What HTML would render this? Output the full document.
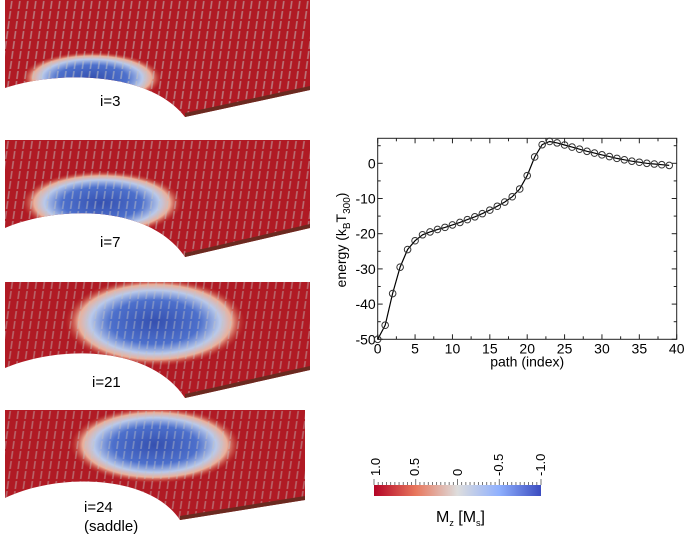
<!DOCTYPE html>
<html><head><meta charset="utf-8"><style>
html,body{margin:0;padding:0;background:#fff;}
svg{display:block;font-family:"Liberation Sans",sans-serif;}
</style></head><body>
<svg width="685" height="546" viewBox="0 0 685 546">
<defs>
<pattern id="arr" width="8" height="10" patternUnits="userSpaceOnUse" patternTransform="skewX(-8)">
<line x1="4" y1="1" x2="4" y2="9" stroke="#c4c4c4" stroke-width="1.6"/>
</pattern>
<radialGradient id="sk" cx="0.5" cy="0.5" r="0.5">
<stop offset="0" stop-color="#3550b0"/><stop offset="0.5" stop-color="#4d70cc"/><stop offset="0.72" stop-color="#b9c9ea"/><stop offset="0.85" stop-color="#eab09a"/><stop offset="1" stop-color="#c8402e" stop-opacity="0"/>
</radialGradient>
<linearGradient id="cb" x1="0" x2="1">
<stop offset="0" stop-color="#b40426"/><stop offset="0.25" stop-color="#e8775d"/><stop offset="0.5" stop-color="#dddddd"/><stop offset="0.75" stop-color="#8fb0fe"/><stop offset="1" stop-color="#3b4cc0"/>
</linearGradient>
<clipPath id="c1"><path d="M5,0 L310,0 L310,90 L185,117 C150,72 60,70 5,88 Z"/></clipPath>
<clipPath id="c2"><path d="M5,140 L310,140 L310,228 L185,257 C150,205 60,205 5,228 Z"/></clipPath>
<clipPath id="c3"><path d="M5,282 L310,282 L310,370 L185,398 C150,345 60,345 5,368 Z"/></clipPath>
<clipPath id="c4"><path d="M5,410 L305,410 L305,500 L180,520 C150,475 60,472 5,498 Z"/></clipPath>
</defs>

<g>
<g clip-path="url(#c1)">
<rect x="0" y="0" width="315" height="120" fill="#b01a24"/>
<ellipse cx="92" cy="78" rx="70" ry="26" fill="url(#sk)"/>
<rect x="0" y="0" width="315" height="120" fill="url(#arr)" opacity="0.55"/>
</g>
<path d="M310,90 L185,117 L185,113 L310,86 Z" fill="#6a2a20"/>
<text x="100" y="106" font-size="15">i=3</text>
</g>
<g>
<g clip-path="url(#c2)">
<rect x="0" y="140" width="315" height="120" fill="#b01a24"/>
<ellipse cx="102" cy="203" rx="80" ry="32" fill="url(#sk)"/>
<rect x="0" y="140" width="315" height="120" fill="url(#arr)" opacity="0.5"/>
</g>
<path d="M310,228 L185,257 L185,253 L310,224 Z" fill="#6a2a20"/>
<text x="100" y="247" font-size="15">i=7</text>
</g>
<g>
<g clip-path="url(#c3)">
<rect x="0" y="280" width="315" height="120" fill="#b01a24"/>
<ellipse cx="155" cy="322" rx="90" ry="44" fill="url(#sk)"/>
<rect x="0" y="280" width="315" height="120" fill="url(#arr)" opacity="0.45"/>
</g>
<path d="M310,370 L185,398 L185,394 L310,366 Z" fill="#6a2a20"/>
<text x="92" y="387" font-size="15">i=21</text>
</g>
<g>
<g clip-path="url(#c4)">
<rect x="0" y="408" width="315" height="115" fill="#b01a24"/>
<ellipse cx="155" cy="445" rx="85" ry="38" fill="url(#sk)"/>
<rect x="0" y="408" width="315" height="115" fill="url(#arr)" opacity="0.45"/>
</g>
<path d="M305,500 L180,520 L180,516 L305,496 Z" fill="#6a2a20"/>
<text x="84" y="512" font-size="15">i=24</text>
<text x="84" y="531" font-size="15">(saddle)</text>
</g>

<g id="chart"></g>

<g>
<rect x="374" y="485" width="167" height="11" fill="url(#cb)"/>
<g id="cbt"></g>
<text transform="translate(380,476) rotate(-90)" font-size="13">1.0</text>
<text transform="translate(419,476) rotate(-90)" font-size="13">0.5</text>
<text transform="translate(462,476) rotate(-90)" font-size="13">0</text>
<text transform="translate(503,476) rotate(-90)" font-size="13">-0.5</text>
<text transform="translate(545,476) rotate(-90)" font-size="13">-1.0</text>
<text x="436" y="522" font-size="16">M<tspan font-size="9" dy="4">z</tspan><tspan dy="-4"> [M</tspan><tspan font-size="9" dy="4">s</tspan><tspan dy="-4">]</tspan></text>
</g>
</svg>
<script>
const pathIndex = [];
for (let i = 0; i < 40; i++) pathIndex.push(i);
const energyValues = [-50,-46,-37,-29.5,-24.5,-22,-20.3,-19.5,-18.8,-18.2,-17.5,-16.8,-16.0,-15.2,-14.3,-13.3,-12.2,-11.0,-9.5,-7.3,-3.5,1.8,5.3,6.2,5.8,5.2,4.6,4.0,3.4,2.9,2.4,1.9,1.4,1.0,0.6,0.3,0,-0.2,-0.4,-0.6];
const xTicks = [0,5,10,15,20,25,30,35,40];
const yTicks = [-50,-40,-30,-20,-10,0];

const NS = "http://www.w3.org/2000/svg";
const X0 = 377.7, X1 = 676.7, Y0 = 163.3, YK = 3.52, TOP = 138.3, BOT = 339.3;
function xs(v){ return X0 + (v/40)*(X1-X0); }
function ys(v){ return Y0 - v*YK; }
function mk(tag, attrs, parent){ const e=document.createElementNS(NS,tag); for(const k in attrs) e.setAttribute(k,attrs[k]); parent.appendChild(e); return e; }
const g = document.getElementById('chart');

const frame = mk('rect',{x:X0,y:TOP,width:X1-X0,height:BOT-TOP,fill:'none',stroke:'#222','stroke-width':1},g);



xTicks.forEach(t=>{
  const x = xs(t);
  mk('line',{x1:x,y1:BOT,x2:x,y2:BOT-5,stroke:'#222'},g);
  mk('line',{x1:x,y1:TOP,x2:x,y2:TOP+5,stroke:'#222'},g);
  if (t<40){ mk('line',{x1:xs(t+2.5),y1:BOT,x2:xs(t+2.5),y2:BOT-3,stroke:'#222'},g); mk('line',{x1:xs(t+2.5),y1:TOP,x2:xs(t+2.5),y2:TOP+3,stroke:'#222'},g); }
  const tx = mk('text',{x:x,y:BOT+14,'font-size':14,'text-anchor':'middle'},g);
  tx.textContent = t;
  
  
});
yTicks.forEach(t=>{
  const y = ys(t);
  mk('line',{x1:X0,y1:y,x2:X0+5,y2:y,stroke:'#222'},g);
  mk('line',{x1:X1,y1:y,x2:X1-5,y2:y,stroke:'#222'},g);
  mk('line',{x1:X0,y1:ys(t+5),x2:X0+3,y2:ys(t+5),stroke:'#222'},g);
  mk('line',{x1:X1,y1:ys(t+5),x2:X1-3,y2:ys(t+5),stroke:'#222'},g);
  const tx = mk('text',{x:X0-2,y:y+5,'font-size':14,'text-anchor':'end'},g);
  tx.textContent = t;
  
  
});

let d = '';
energyValues.forEach((v,i)=>{ d += (i?'L':'M') + xs(pathIndex[i]).toFixed(1) + ',' + ys(v).toFixed(1); });
const line = mk('path',{d:d,fill:'none',stroke:'#000','stroke-width':1.2},g);


energyValues.forEach((v,i)=>{
  const c = mk('circle',{cx:xs(pathIndex[i]),cy:ys(v),r:3.3,fill:'none',stroke:'#333','stroke-width':1},g);
  
  
});

const xl = mk('text',{x:(X0+X1)/2,y:BOT+27,'font-size':14,'text-anchor':'middle'},g);
xl.textContent = 'path (index)';


const yl = mk('text',{transform:'translate(346,240) rotate(-90)','font-size':14,'text-anchor':'middle'},g);
yl.innerHTML = 'energy (k<tspan font-size="10" dy="4">B</tspan><tspan dy="-4">T</tspan><tspan font-size="10" dy="4">300</tspan><tspan dy="-4">)</tspan>';



const cbt = document.getElementById('cbt');
for (let k=0;k<=40;k++){
  const x = 374 + k*167/40;
  mk('line',{x1:x,y1:485,x2:x,y2:(k%10===0)?479:482,stroke:'#555','stroke-width':0.8},cbt);
}
</script>
</body></html>
